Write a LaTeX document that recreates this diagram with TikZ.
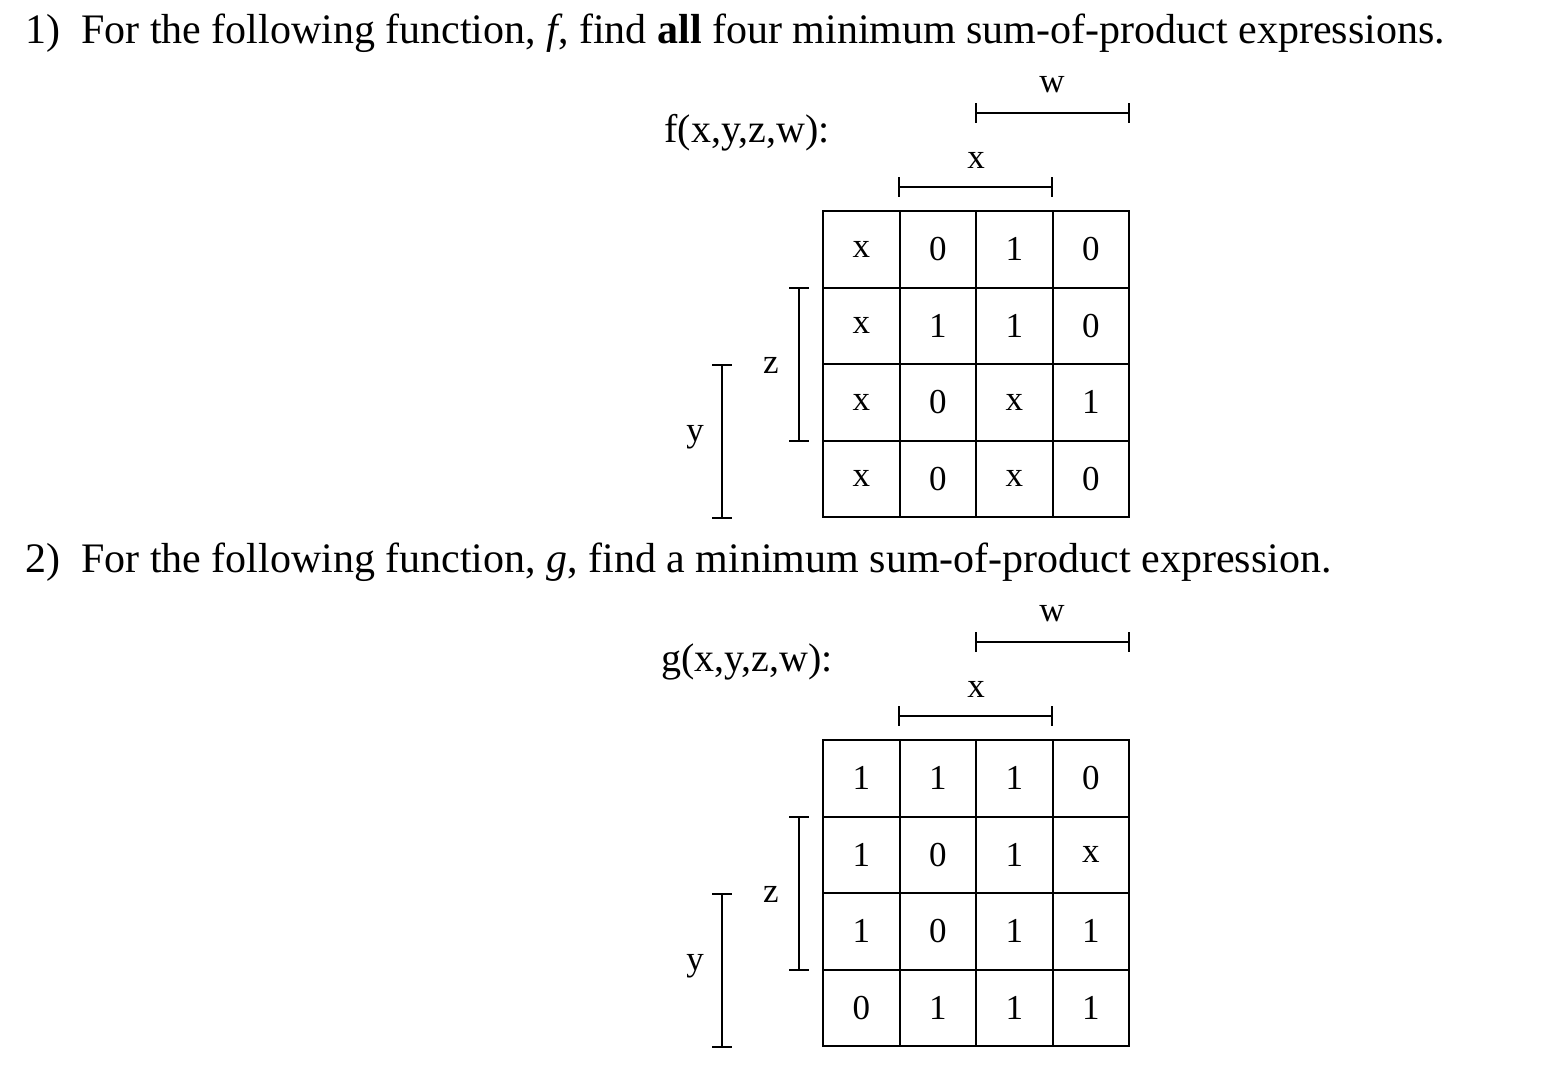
\documentclass[tikz,border=0pt]{standalone}
\usepackage{fontspec}
\setmainfont{Liberation Serif}
\begin{document}
\begin{tikzpicture}[x=1pt,y=-1pt,
  cellbox/.style={draw,line width=2pt,minimum size=76.5pt,inner sep=0pt,font=\fontsize{35}{35}\selectfont},
  brk/.style={line width=1.8pt},
  lbl/.style={font=\fontsize{35}{35}\selectfont,inner sep=0pt},
  head/.style={anchor=west,font=\fontsize{42}{42}\selectfont,inner sep=0pt}]
\useasboundingbox (0,0) rectangle (1544,1088);
\newcommand{\kmap}[4]{%
 \begin{scope}[yshift=-#1pt]
 \node[lbl,anchor=center,font=\fontsize{40}{40}\selectfont] (fl#2) at (747,133) {#3};
 \foreach \r [count=\i from 0] in {#4} {
   \foreach \v [count=\j from 0] in \r {
     \node[cellbox] (c#2-\i-\j) at (861.25+76.5*\j,249.25+76.5*\i) {\v};
   }
 }
 \coordinate (wa#2) at (976,113); \coordinate (wb#2) at (1129,113);
 \draw[brk] (wa#2) -- (wb#2) (976,103)--(976,123) (1129,103)--(1129,123);
 \node[lbl] (w#2) at (1052,85) {w};
 \draw[brk] (899,187) -- (1052,187) (899,177)--(899,197) (1052,177)--(1052,197);
 \node[lbl] (x#2) at (976,160) {x};
 \draw[brk] (799,288) -- (799,441) (789,288)--(809,288) (789,441)--(809,441);
 \node[lbl] (z#2) at (771,365) {z};
 \draw[brk] (722,365) -- (722,518) (712,365)--(732,365) (712,518)--(732,518);
 \node[lbl] (y#2) at (695,437) {y};
 \end{scope}}
\node[head] (h1) at (25,33) {1)\hspace{0.5em}For the following function, \textit{f}, find \textbf{all} four minimum sum-of-product expressions.};
\kmap{0}{a}{f(x,y,z,w):}{{x,0,1,0},{x,1,1,0},{x,0,x,1},{x,0,x,0}}
\node[head] (h2) at (25,562) {2)\hspace{0.5em}For the following function, \textit{g}, find a minimum sum-of-product expression.};
\kmap{529}{b}{g(x,y,z,w):}{{1,1,1,0},{1,0,1,x},{1,0,1,1},{0,1,1,1}}
\end{tikzpicture}
\end{document}
